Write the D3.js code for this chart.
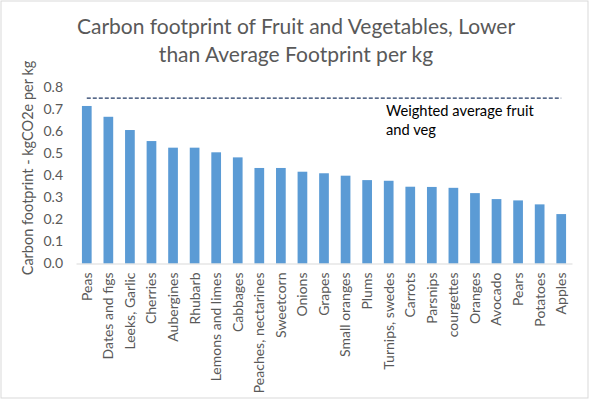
<!DOCTYPE html>
<html lang="en">
 <head>
 <meta charset="UTF-8">
        <title>Carbon footprint of fruit and vegetables</title>
        <script type="text/javascript" src="https://unpkg.com/d3@7/dist/d3.min.js"></script>
        <style>
          body { margin: 0; background: #fff; }
          text { font-family: Lato, "Open Sans", sans-serif; }
        </style>
 </head>

 <body>
        <script type="text/javascript">

          var categories = ["Peas", "Dates and figs", "Leeks, Garlic", "Cherries", "Aubergines", "Rhubarb",
                            "Lemons and limes", "Cabbages", "Peaches, nectarines", "Sweetcorn", "Onions", "Grapes",
                            "Small oranges", "Plums", "Turnips, swedes", "Carrots", "Parsnips", "courgettes",
                            "Oranges", "Avocado", "Pears", "Potatoes", "Apples"];
          var footprint = [0.714, 0.665, 0.605, 0.555, 0.525, 0.525, 0.504, 0.481, 0.433, 0.433, 0.416, 0.409,
                           0.398, 0.378, 0.375, 0.348, 0.347, 0.343, 0.319, 0.292, 0.286, 0.268, 0.224];
          var weightedAverage = 0.75;
          var yTicks = [0, 0.1, 0.2, 0.3, 0.4, 0.5, 0.6, 0.7, 0.8];

          var width = 590, height = 400;
          var plot = { left: 76, right: 572, top: 87, bottom: 263.5 };

          var svg = d3.select("body").append("svg")
                      .attr("width", width)
                      .attr("height", height);

          // chart frame
          svg.append("rect")
             .attr("x", 1).attr("y", 1)
             .attr("width", 587).attr("height", 397)
             .style("fill", "#fff")
             .style("stroke", "#d9d9d9");

          var x = d3.scaleBand()
                    .domain(categories)
                    .range([plot.left, plot.right])
                    .paddingInner(0.55)
                    .paddingOuter(0.275);

          var y = d3.scaleLinear()
                    .domain([0, 0.8])
                    .range([plot.bottom, plot.top]);

          // title
          svg.append("text")
             .attr("x", 296).attr("y", 34)
             .attr("text-anchor", "middle")
             .style("font-size", "21px")
             .style("fill", "#595959")
             .selectAll("tspan")
             .data(["Carbon footprint of Fruit and Vegetables, Lower", "than Average Footprint per kg"])
             .enter().append("tspan")
             .attr("x", 296)
             .attr("dy", (d, i) => i ? 28 : 0)
             .text((d) => d);

          // y axis
          var yAxis = svg.append("g")
                         .attr("transform", "translate(" + plot.left + ",0)")
                         .call(d3.axisLeft(y).tickValues(yTicks).tickFormat(d3.format(".1f")).tickSize(0).tickPadding(13));
          yAxis.select(".domain").remove();
          yAxis.selectAll("text")
               .style("font-family", "Lato, sans-serif")
               .style("font-size", "14px")
               .style("fill", "#595959");

          svg.append("text")
             .attr("transform", "translate(33,168) rotate(-90)")
             .attr("text-anchor", "middle")
             .style("font-size", "14.5px")
             .style("fill", "#595959")
             .text("Carbon footprint - kgCO2e per kg");

          // bars
          svg.selectAll("rect.bar")
             .data(categories)
             .enter()
             .append("rect")
             .attr("class", "bar")
             .attr("x", (d) => x(d))
             .attr("y", (d, i) => y(footprint[i]))
             .attr("width", x.bandwidth())
             .attr("height", (d, i) => y(0) - y(footprint[i]))
             .style("fill", "#5b9bd5");

          // x axis
          var xAxis = svg.append("g")
                         .attr("transform", "translate(0," + plot.bottom + ")")
                         .call(d3.axisBottom(x).tickSize(0).tickPadding(0));
          xAxis.select(".domain")
               .style("stroke", "#d9d9d9")
               .style("stroke-width", 1);
          xAxis.selectAll("text")
               .attr("transform", "rotate(-90)")
               .attr("x", -9)
               .attr("y", 0)
               .attr("dy", "0.35em")
               .attr("text-anchor", "end")
               .style("font-family", "Lato, sans-serif")
               .style("font-size", "14px")
               .style("fill", "#595959");

          // weighted average line
          var line = d3.line()
                       .x((d) => x(d) + x.bandwidth() / 2)
                       .y(() => y(weightedAverage));
          svg.append("path")
             .datum(categories)
             .attr("d", line)
             .style("fill", "none")
             .style("stroke", "#203864")
             .style("stroke-width", 1.25)
             .style("stroke-dasharray", "4,2");

          svg.append("text")
             .attr("x", 386).attr("y", 116)
             .style("font-size", "14.7px")
             .style("fill", "#000")
             .selectAll("tspan")
             .data(["Weighted average fruit", "and veg"])
             .enter().append("tspan")
             .attr("x", 386)
             .attr("dy", (d, i) => i ? 19 : 0)
             .text((d) => d);

        </script>
    </body>
</html>
